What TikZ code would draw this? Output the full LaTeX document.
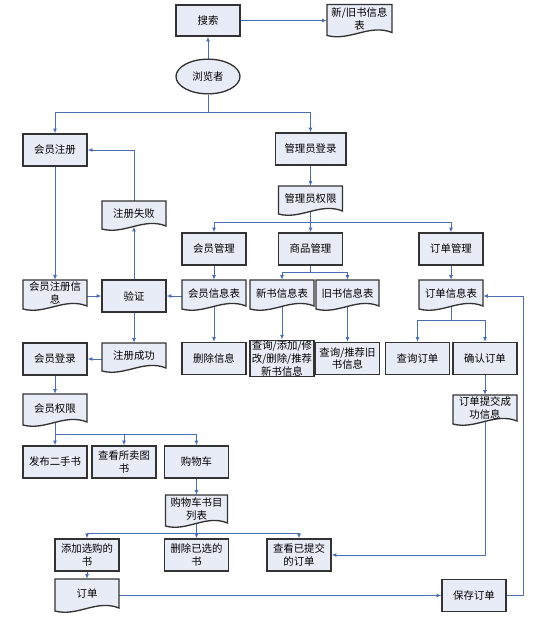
\documentclass[tikz,border=0pt]{standalone}
\usepackage{fontspec}
\newfontfamily\cjk{Noto Sans CJK SC}
\usetikzlibrary{arrows.meta,calc,shapes.geometric,backgrounds}
\definecolor{lineblue}{HTML}{4A6EB0}
\definecolor{boxfill}{HTML}{E8ECF6}
\definecolor{boxline}{HTML}{333333}

\newcommand\docnode[6]{%
  \begin{scope}[shift={(#2,#3)}]
    \path[docshape] (0,0) -- (#4,0) -- (#4,{#5-4})
      .. controls ({0.65*#4},{#5-13}) and ({0.35*#4},{#5+5}) .. (0,{#5-1}) -- cycle;
  \end{scope}
  \node[doctext, minimum width={#4*0.75pt}, minimum height={(#5-3.6)*0.75pt}]
    (#1) at ({#2+#4/2},{#3+(#5-3.6)/2}) {#6};
}

\begin{document}
\begin{tikzpicture}[x=0.75pt,y=-0.75pt,
  font=\cjk\fontsize{7.8}{9.6}\selectfont,
  box/.style={draw=boxline, fill=boxfill, line width=1pt, minimum width=48pt,
    minimum height=24pt, inner sep=0.5pt, align=center},
  docshape/.style={draw=boxline, fill=boxfill, line width=1pt},
  doctext/.style={inner sep=0.5pt, align=center},
  conn/.style={draw=lineblue, line width=0.7pt},
  arr/.style={conn, -{Latex[length=3.5pt,width=3pt]}}]
\useasboundingbox (0,0) rectangle (536,622);

% top
\node[box, minimum height=23.25pt] (search) at (208,20.5) {搜索};
\docnode{newold}{327}{4.5}{65}{32}{新/旧书信息\\表}
\node[ellipse, draw=boxline, fill=boxfill, line width=1pt, minimum width=48pt,
  minimum height=26pt, inner sep=0pt] (bro) at (208,76.5) {浏览者};

% left column
\node[box] (reg) at (55,150) {会员注册};
\docnode{fail}{102}{201}{64}{29}{注册失败}
\docnode{reginfo}{23}{280}{64}{30}{会员注册信\\息}
\node[box] (valid) at (134,296) {验证};
\docnode{succ}{102}{343}{64}{29}{注册成功}
\node[box] (login) at (55,359) {会员登录};
\docnode{mperm}{23}{394}{64}{32}{会员权限}
\node[box] (pub) at (55,462) {发布二手书};
\node[box] (view) at (124,462) {查看所卖图\\书};
\node[box] (cart) at (196.5,462) {购物车};
\docnode{cartlist}{165.5}{495}{62}{32}{购物车书目\\列表}
\node[box] (add) at (87,555) {添加选购的\\书};
\node[box] (delsel) at (196.5,555) {删除已选的\\书};
\node[box] (viewsub) at (299,555) {查看已提交\\的订单};
\docnode{order}{55}{579}{64}{33}{订单}
\node[box] (save) at (474,595.5) {保存订单};

% admin part
\node[box, minimum width=53pt] (admin) at (310.5,149) {管理员登录};
\docnode{perm}{278.5}{186}{64}{29}{管理员权限}
\node[box] (mm) at (214,249) {会员管理};
\node[box] (gm) at (310.5,249) {商品管理};
\node[box] (om) at (451,249) {订单管理};
\docnode{minfo}{182}{280}{64}{30}{会员信息表}
\docnode{nbinfo}{250}{280}{64}{30}{新书信息表}
\docnode{obinfo}{316}{280}{63}{30}{旧书信息表}
\docnode{oinfo}{419}{280}{64}{30}{订单信息表}
\node[box] (del) at (214,358.5) {删除信息};
\node[box] (nb) at (282,358.5) {查询/添加/修\\改/删除/推荐\\新书信息};
\node[box] (ob) at (347.5,358.5) {查询/推荐旧\\书信息};
\node[box] (qo) at (417.5,358.5) {查询订单};
\node[box] (co) at (485,358.5) {确认订单};
\docnode{osucc}{453}{395}{64}{30}{订单提交成\\功信息}

\coordinate (j1) at (208,112);
\coordinate (j2) at (310.5,222);
\coordinate (j3) at (310.5,272);
\coordinate (j4) at (451,320);
\coordinate (j5) at (523,296);
\coordinate (j6) at (55,434);
\coordinate (j7) at (196.5,533);

\begin{pgfonlayer}{background}
\draw[arr] (bro.north) -- (search.south);
\draw[arr] (search.east) -- (search.east -| newold.west);
\draw[conn] (bro.south) -- (j1);
\draw[arr] (j1) -| (reg.north);
\draw[arr] (j1) -| (admin.north);
\draw[arr] (admin.south) -- (perm.north);
\draw[conn] (perm.south) -- (j2);
\draw[arr] (j2) -| (mm.north);
\draw[arr] (j2) -- (gm.north);
\draw[arr] (j2) -| (om.north);
\draw[conn] (gm.south) -- (j3);
\draw[arr] (j3) -| (nbinfo.north);
\draw[arr] (j3) -| (obinfo.north);
\draw[arr] (mm.south) -- (minfo.north);
\draw[arr] (om.south) -- (oinfo.north);
\draw[arr] (minfo.south) -- (del.north);
\draw[arr] (nbinfo.south) -- (nb.north);
\draw[arr] (obinfo.south) -- (ob.north);
\draw[conn] (oinfo.south) -- (j4);
\draw[arr] (j4) -| (qo.north);
\draw[arr] (j4) -| (co.north);
\draw[arr] (co.south) -- (osucc.north);
\draw[arr] (osucc.south) |- (viewsub.east);
\draw[arr] (save.east) -| (j5) -- (oinfo.east |- j5);
\draw[arr] (save.west -| order.east) -- (save.west);
\draw[arr] (reg.south) -- (reginfo.north);
\draw[arr] (reginfo.east |- valid) -- (valid.west);
\draw[arr] (minfo.west |- valid) -- (valid.east);
\draw[arr] (valid.north) -- (fail.south);
\draw[arr] (fail.north) |- (reg.east);
\draw[arr] (valid.south) -- (succ.north);
\draw[arr] (login.east -| succ.west) -- (login.east);
\draw[arr] (login.south) -- (mperm.north);
\draw[conn] (mperm.south) -- (j6);
\draw[arr] (j6) -- (pub.north);
\draw[arr] (j6) -| (view.north);
\draw[arr] (j6) -| (cart.north);
\draw[arr] (cart.south) -- (cartlist.north);
\draw[conn] (cartlist.south) -- (j7);
\draw[arr] (j7) -| (add.north);
\draw[arr] (j7) -- (delsel.north);
\draw[arr] (j7) -| (viewsub.north);
\draw[arr] (add.south) -- (order.north);
\end{pgfonlayer}
\end{tikzpicture}
\end{document}
